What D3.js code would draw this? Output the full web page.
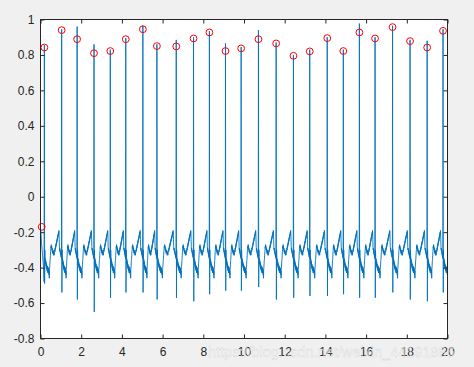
<!DOCTYPE html>
<html><head><meta charset="utf-8">
<script src="https://cdn.jsdelivr.net/npm/d3@7"></script>
<style>html,body{margin:0;padding:0;background:#f0f0f0;}svg{display:block;}</style>
</head><body>
<svg id="c" width="474" height="367"></svg>
<script>
// R-peak times (s), spike tops and S troughs
const rTimes  = [0.19,1.04,1.80,2.63,3.43,4.19,5.03,5.72,6.67,7.52,8.30,9.09,9.86,10.71,11.58,12.43,13.23,14.09,14.88,15.67,16.44,17.30,18.16,19.00,19.78];
const rPeaks  = [0.855,0.945,0.96,0.86,0.83,0.895,0.965,0.86,0.885,0.90,0.935,0.865,0.845,0.94,0.87,0.80,0.83,0.90,0.83,0.977,0.90,0.965,0.885,0.88,0.945];
const sTroughs= [-0.49,-0.54,-0.58,-0.65,-0.57,-0.54,-0.54,-0.58,-0.57,-0.59,-0.55,-0.53,-0.53,-0.51,-0.58,-0.57,-0.56,-0.56,-0.55,-0.57,-0.57,-0.54,-0.58,-0.59,-0.54];
// beat shape between one S wave and the next R (equal phase steps)
const beatShape = [
  -0.30,-0.34,-0.36,-0.35,-0.38,-0.36,-0.39,-0.37,-0.40,-0.38,-0.41,-0.39,-0.40,-0.42,-0.39,-0.41,-0.43,-0.40,-0.42,-0.40,-0.43,-0.41,-0.44,-0.42,-0.46,-0.41,-0.40,
  -0.38,-0.36,-0.35,-0.33,-0.31,-0.30,-0.28,-0.29,
  -0.27,-0.29,-0.28,-0.30,-0.29,-0.31,-0.30,-0.32,-0.31,-0.30,-0.32,-0.31,-0.33,-0.32,-0.31,-0.33,-0.32,-0.31,-0.30,-0.31,-0.29,-0.30,-0.28,-0.29,
  -0.27,-0.28,-0.26,-0.27,-0.25,-0.26,-0.24,-0.25,-0.23,-0.24,-0.22,-0.23,-0.21,-0.22,-0.20,-0.21,-0.19,-0.20,
  -0.24,-0.28,-0.30,-0.29,-0.31,
  -0.30,-0.32,-0.31,-0.33,-0.32,-0.34,-0.33,-0.35];
// signal before first beat
const leadTimes  = [0.0,0.05,0.10,0.15,0.175];
const leadValues = [-0.17,-0.26,-0.33,-0.40,-0.48];
// detected peaks (red circles)
const circleTimes  = [0.06,0.19,1.04,1.80,2.63,3.43,4.19,5.03,5.72,6.67,7.52,8.30,9.09,9.86,10.71,11.58,12.43,13.23,14.09,14.88,15.67,16.44,17.30,18.16,19.00,19.78];
const circleValues = [-0.17,0.842,0.94,0.889,0.81,0.822,0.889,0.945,0.85,0.848,0.893,0.927,0.822,0.837,0.889,0.865,0.795,0.82,0.895,0.822,0.927,0.893,0.957,0.878,0.842,0.936];
const xTicks = [0,2,4,6,8,10,12,14,16,18,20];
const yTicks = [-0.8,-0.6,-0.4,-0.2,0,0.2,0.4,0.6,0.8,1];
const watermark = "https://blog.csdn.net/weixin_44191886";

const svg = d3.select("#c");
const x = d3.scaleLinear().domain([0,20]).range([40.5,447.5]);
const y = d3.scaleLinear().domain([-0.8,1]).range([338.5,19.5]);

svg.append("rect").attr("x",40.5).attr("y",19.5).attr("width",407).attr("height",319).attr("fill","#fff");

// build signal
const pts = [];
leadTimes.forEach((t,i)=>pts.push([t,leadValues[i]]));
rTimes.forEach((t,i)=>{
  const rr = (i < rTimes.length-1 ? rTimes[i+1] : t + 0.8) - t;
  pts.push([t, rPeaks[i]]);
  pts.push([t + 0.012, sTroughs[i]]);
  const n = beatShape.length + 1;
  beatShape.forEach((v,k)=>{
    const tt = t + 0.012 + (rr-0.012)*(k+1)/n;
    if (tt <= 20) pts.push([tt, v]);
  });
});

svg.append("clipPath").attr("id","cp").append("rect")
  .attr("x",40.5).attr("y",19.5).attr("width",407).attr("height",319);

svg.append("path").datum(pts)
  .attr("clip-path","url(#cp)")
  .attr("fill","none").attr("stroke","#0072BD").attr("stroke-width",0.9)
  .attr("stroke-linejoin","round")
  .attr("d", d3.line().x(d=>x(d[0])).y(d=>y(d[1])));

svg.append("g").selectAll("circle").data(circleTimes).join("circle")
  .attr("cx",(d)=>x(d)).attr("cy",(d,i)=>y(circleValues[i])).attr("r",3.4)
  .attr("fill","none").attr("stroke","#ff0000").attr("stroke-width",1);

const fmt = d => String(+d.toFixed(1));
function style(g){
  g.select(".domain").remove();
  g.selectAll("line").attr("stroke","#262626");
  g.selectAll("text").attr("fill","#262626").style("font-family","'Liberation Sans',Arial,sans-serif").style("font-size","12px");
}
svg.append("g").attr("transform","translate(0,338.5)")
  .call(d3.axisBottom(x).tickValues(xTicks).tickSizeInner(-4).tickSizeOuter(0).tickPadding(9).tickFormat(fmt)).call(style);
svg.append("g").attr("transform","translate(0,19.5)")
  .call(d3.axisTop(x).tickValues(xTicks).tickSizeInner(-4).tickSizeOuter(0).tickFormat("")).call(style);
svg.append("g").attr("transform","translate(40.5,0)")
  .call(d3.axisLeft(y).tickValues(yTicks).tickSizeInner(-4).tickSizeOuter(0).tickPadding(6).tickFormat(fmt)).call(style);
svg.append("g").attr("transform","translate(447.5,0)")
  .call(d3.axisRight(y).tickValues(yTicks).tickSizeInner(-4).tickSizeOuter(0).tickFormat("")).call(style);

svg.append("rect").attr("x",40.5).attr("y",19.5).attr("width",407).attr("height",319)
  .attr("fill","none").attr("stroke","#262626").attr("stroke-width",1);

svg.append("text").attr("x",208).attr("y",357).text(watermark)
  .style("font-family","'Liberation Sans',Arial,sans-serif").style("font-size","14.5px")
  .attr("fill","#ffffff").attr("fill-opacity",0.55).attr("stroke","#c8c8c8").attr("stroke-width",0.4).attr("stroke-opacity",0.7);
</script>
</body></html>
